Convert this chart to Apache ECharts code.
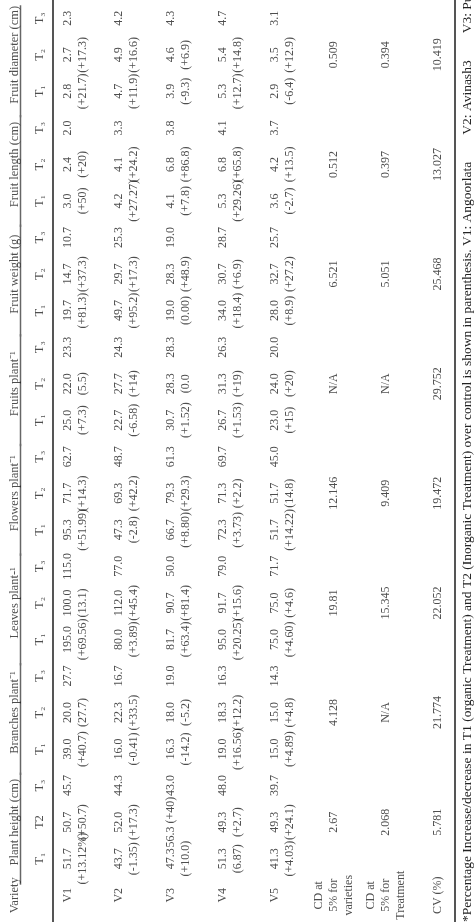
<!DOCTYPE html>
<html><head><meta charset="utf-8">
<script src="https://cdn.jsdelivr.net/npm/echarts@6/dist/echarts.min.js"></script>
<style>html,body{margin:0;padding:0;background:#fff}#c{width:474px;height:922px}</style>
</head><body><div id="c"></div>
<script>
const varieties = ['V1','V2','V3','V4','V5'];
const groupNames = ['Plant height (cm)','Branches plant⁻¹','Leaves plant-¹','Flowers plant⁻¹','Fruits plant⁻¹','Fruit weight (g)','Fruit length (cm)','Fruit diameter (cm)'];
const groupKeys = ['ph','br','lv','fl','fr','fw','fl2','fd'];
const treatLabels = [['T₁','T2','T₃'],['T₁','T₂','T₃'],['T₁','T₂','T₃'],['T₁','T₂','T₃'],['T₁','T₂','T₃'],['T₁','T₂','T₃'],['T₁','T₂','T₃'],['T₁','T₂','T₃']];
const phT1 = [51.7,43.7,47.3,51.3,41.3], phT1p = ['(+13.12%)','(-1.35)','(+10.0)','(6.87)','(+4.03)'];
const phT2 = [50.7,52.0,56.3,49.3,49.3], phT2p = ['(+50.7)','(+17.3)','(+40)','(+2.7)','(+24.1)'];
const phT3 = [45.7,44.3,43.0,48.0,39.7];
const brT1 = [39.0,16.0,16.3,19.0,15.0], brT1p = ['(+40.7)','(-0.41)','(-14.2)','(+16.56)','(+4.89)'];
const brT2 = [20.0,22.3,18.0,18.3,15.0], brT2p = ['(27.7)','(+33.5)','(-5.2)','(+12.2)','(+4.8)'];
const brT3 = [27.7,16.7,19.0,16.3,14.3];
const lvT1 = [195.0,80.0,81.7,95.0,75.0], lvT1p = ['(+69.56)','(+3.89)','(+63.4)','(+20.25)','(+4.60)'];
const lvT2 = [100.0,112.0,90.7,91.7,75.0], lvT2p = ['(13.1)','(+45.4)','(+81.4)','(+15.6)','(+4.6)'];
const lvT3 = [115.0,77.0,50.0,79.0,71.7];
const flT1 = [95.3,47.3,66.7,72.3,51.7], flT1p = ['(+51.99)','(-2.8)','(+8.80)','(+3.73)','(+14.22)'];
const flT2 = [71.7,69.3,79.3,71.3,51.7], flT2p = ['(+14.3)','(+42.2)','(+29.3)','(+2.2)','(14.8)'];
const flT3 = [62.7,48.7,61.3,69.7,45.0];
const frT1 = [25.0,22.7,30.7,26.7,23.0], frT1p = ['(+7.3)','(-6.58)','(+1.52)','(+1.53)','(+15)'];
const frT2 = [22.0,27.7,28.3,31.3,24.0], frT2p = ['(5.5)','(+14)','(0.0','(+19)','(+20)'];
const frT3 = [23.3,24.3,28.3,26.3,20.0];
const fwT1 = [19.7,49.7,19.0,34.0,28.0], fwT1p = ['(+81.3)','(+95.2)','(0.00)','(+18.4)','(+8.9)'];
const fwT2 = [14.7,29.7,28.3,30.7,32.7], fwT2p = ['(+37.3)','(+17.3)','(+48.9)','(+6.9)','(+27.2)'];
const fwT3 = [10.7,25.3,19.0,28.7,25.7];
const lnT1 = [3.0,4.2,4.1,5.3,3.6], lnT1p = ['(+50)','(+27.27)','(+7.8)','(+29.26)','(-2.7)'];
const lnT2 = [2.4,4.1,6.8,6.8,4.2], lnT2p = ['(+20)','(+24.2)','(+86.8)','(+65.8)','(+13.5)'];
const lnT3 = [2.0,3.3,3.8,4.1,3.7];
const fdT1 = [2.8,4.7,3.9,5.3,2.9], fdT1p = ['(+21.7)','(+11.9)','(-9.3)','(+12.7)','(-6.4)'];
const fdT2 = [2.7,4.9,4.6,5.4,3.5], fdT2p = ['(+17.3)','(+16.6)','(+6.9)','(+14.8)','(+12.9)'];
const fdT3 = [2.3,4.2,4.3,4.7,3.1];
const statRows = ['CD at\n5% for\nvarieties','CD at\n5% for\nTreatment','CV (%)'];
const cdVar = ['2.67','4.128','19.81','12.146','N/A','6.521','0.512','0.509'];
const cdTrt = ['2.068','N/A','15.345','9.409','N/A','5.051','0.397','0.394'];
const cvPct = ['5.781','21.774','22.052','19.472','29.752','25.468','13.027','10.419'];
const footnote = '*Percentage Increase/decrease in T1 (organic Treatment) and T2 (Inorganic Treatment) over control is shown in parenthesis. V1: Angoorlata        V2: Avinash3        V3: Pusa Rohini        V4: Pusa Uttam';

const groups = [
 [[phT1,phT1p],[phT2,phT2p],[phT3,null]],
 [[brT1,brT1p],[brT2,brT2p],[brT3,null]],
 [[lvT1,lvT1p],[lvT2,lvT2p],[lvT3,null]],
 [[flT1,flT1p],[flT2,flT2p],[flT3,null]],
 [[frT1,frT1p],[frT2,frT2p],[frT3,null]],
 [[fwT1,fwT1p],[fwT2,fwT2p],[fwT3,null]],
 [[lnT1,lnT1p],[lnT2,lnT2p],[lnT3,null]],
 [[fdT1,fdT1p],[fdT2,fdT2p],[fdT3,null]]
];
const colCats = ['var'];
groupKeys.forEach(k => { colCats.push(k+'1', k+'2', k+'3'); });
const rowCats = ['V1','V2','V3','V4','V5','CDv','CDt','CV'];

const body = [];
varieties.forEach((v,i) => body.push({value:[v,'var'], name: v+'\n '}));
['CDv','CDt','CV'].forEach((r,i) => body.push({value:[r,'var'], name: statRows[i]}));
groups.forEach((g,gi) => {
  g.forEach((t,ti) => {
    const col = groupKeys[gi]+(ti+1);
    varieties.forEach((v,i) => {
      const val = t[0][i].toFixed(1);
      let txt;
      if (gi===0 && ti===1 && i===2) txt = val + ' ' + t[1][i] + '\n ';
      else txt = val + '\n' + (t[1] ? t[1][i] : ' ');
      body.push({value:[v,col], name:txt});
    });
  });
  const mid = groupKeys[gi]+'2';
  body.push({value:['CDv',mid], name:cdVar[gi]});
  body.push({value:['CDt',mid], name:cdTrt[gi]});
  body.push({value:['CV',mid], name:cvPct[gi]});
});
const header = [{value:['grp','var'], name:'Variety'}];
groupKeys.forEach((k,gi) => {
  header.push({value:['grp',k+'2'], name:groupNames[gi]});
  for (let t=0;t<3;t++) header.push({value:['sub',k+(t+1)], name:treatLabels[gi][t]});
});

const FONT = 'Liberation Serif';
const lbl = {show:true, position:'inside', rotate:90, formatter:'{b}', color:'#222', fontFamily:FONT, fontSize:12, lineHeight:15, align:'center', verticalAlign:'middle'};
const H = 927, TOP = -13.5;
const chart = echarts.init(document.getElementById('c'), null, {renderer:'canvas'});
chart.setOption({
  animation:false,
  grid:[{left:49, width:415, top:TOP, height:H},{left:2.5, width:50, top:TOP, height:H}],
  xAxis:[{type:'category', data:rowCats, gridIndex:0, show:false},{type:'category', data:['grp','sub'], gridIndex:1, show:false}],
  yAxis:[{type:'category', data:colCats, gridIndex:0, show:false},{type:'category', data:colCats, gridIndex:1, show:false}],
  series:[
    {type:'scatter', xAxisIndex:0, yAxisIndex:0, data:body, symbolSize:1, itemStyle:{color:'rgba(0,0,0,0)'}, label:lbl, labelLayout:{hideOverlap:false}, silent:true},
    {type:'scatter', xAxisIndex:1, yAxisIndex:1, data:header, symbolSize:1, itemStyle:{color:'rgba(0,0,0,0)'}, label:Object.assign({}, lbl, {fontSize:12.5}), labelLayout:{hideOverlap:false}, silent:true}
  ]
});
const gfx = [];
const HH = 922;
gfx.push({type:'line', shape:{x1:53,y1:0,x2:53,y2:HH}, style:{stroke:'#555', lineWidth:2}});
gfx.push({type:'line', shape:{x1:455,y1:0,x2:455,y2:HH}, style:{stroke:'#555', lineWidth:2}});
groupKeys.forEach(k => {
  const y1 = chart.convertToPixel({yAxisIndex:1}, k+'1');
  const y3 = chart.convertToPixel({yAxisIndex:1}, k+'3');
  gfx.push({type:'line', shape:{x1:20.5,y1:y1+26,x2:20.5,y2:y3-13}, style:{stroke:'#666', lineWidth:1.5}});
});
gfx.push({type:'text', x:467, y:HH, rotation:Math.PI/2, style:{text:footnote, fill:'#222', font:'13.5px "Liberation Serif"', align:'left', verticalAlign:'middle'}});
chart.setOption({graphic:gfx});
</script></body></html>
